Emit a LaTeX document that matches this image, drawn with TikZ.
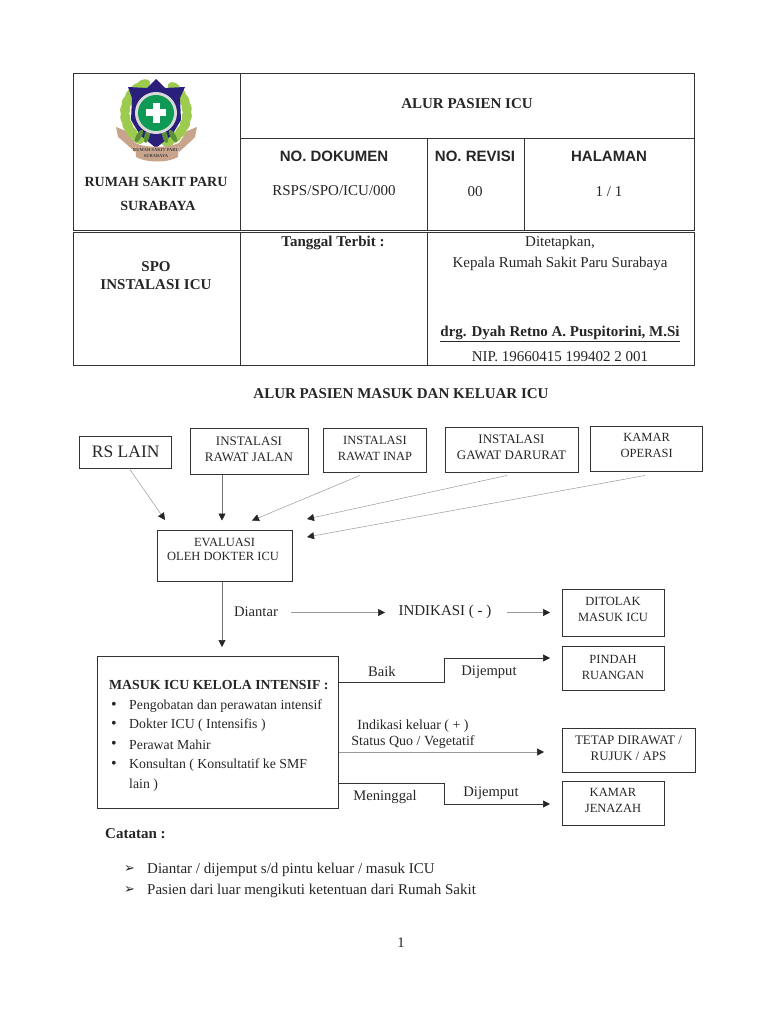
\documentclass[tikz,border=0pt]{standalone}
\usepackage{fontspec}
\setmainfont{Liberation Serif}
\newfontfamily\arialfont{Liberation Sans}
\newfontfamily\symfont{DejaVu Sans}
\usetikzlibrary{arrows.meta,positioning,calc}
\definecolor{rule}{HTML}{333333}
\definecolor{shieldblue}{HTML}{2A1F7A}
\definecolor{leafgreen}{HTML}{9CCB4F}
\definecolor{leafdark}{HTML}{5C8F3A}
\definecolor{crossgreen}{HTML}{0E9A55}
\definecolor{ribbontan}{HTML}{C9A48C}

\begin{document}
\begin{tikzpicture}[
    x=1pt,y=-1pt,
    cell/.style={rectangle,draw=rule,line width=1pt,anchor=north west,inner sep=0pt},
    flowbox/.style={rectangle,draw=rule,line width=1pt,align=center,inner sep=0pt,text=black!85,font=\fontsize{12.5}{16}\selectfont},
    bigflow/.style={flowbox,font=\fontsize{13}{16}\selectfont},
    lift/.style={text depth=#1},
    txt/.style={align=center,inner sep=0pt,text=black!85,font=\fontsize{15}{18}\selectfont},
    boldtxt/.style={txt,font=\fontsize{15}{18}\selectfont\bfseries},
    nametxt/.style={txt,font=\fontsize{14}{18}\selectfont\bfseries},
    headtxt/.style={txt,font=\fontsize{15}{18}\selectfont\arialfont\bfseries},
    small/.style={txt,font=\fontsize{14.6}{16}\selectfont},
    listtxt/.style={txt,anchor=west,align=left,font=\fontsize{13.8}{16}\selectfont},
    arrow/.style={draw=rule,line width=0.7pt,-{Triangle[length=7pt,width=7pt,color=black!85]}},
    thin arrow/.style={arrow,draw=black!40,line width=0.5pt}
]
    \useasboundingbox (0,0) rectangle (768,1024);

    % table
    \node[cell,minimum width=167pt,minimum height=157pt] (logocell) at (73,73) {};
    \node[cell,minimum width=454pt,minimum height=65pt] (titlecell) at (240,73) {};
    \node[cell,minimum width=187pt,minimum height=92pt] (dokcell) at (240,138) {};
    \node[cell,minimum width=97pt,minimum height=92pt] (revcell) at (427,138) {};
    \node[cell,minimum width=170pt,minimum height=92pt] (halcell) at (524,138) {};
    \node[cell,minimum width=167pt,minimum height=133pt] (spocell) at (73,232) {};
    \node[cell,minimum width=187pt,minimum height=133pt] (tglcell) at (240,232) {};
    \node[cell,minimum width=267pt,minimum height=133pt] (ttdcell) at (427,232) {};

    % logo
    \fill[ribbontan] (116,127) -- (126,131) -- (135,143) -- (135,152) -- (124,142) -- (118,137) -- cycle;
    \fill[ribbontan] (197,127) -- (187,131) -- (179,143) -- (179,152) -- (190,142) -- (195,137) -- cycle;
    \begin{scope}[shift={(156,113)}]
        \foreach \ang in {-66,-51,...,66,114,129,...,246} {
            \fill[leafgreen,rotate=\ang] (31,0) ellipse (5 and 7);
        }
    \end{scope}
    \fill[shieldblue] (156,79) -- (165,88) -- (185,87) -- (180,98) -- (181,120) -- (172,135) -- (156,148) -- (140,135) -- (131,120) -- (132,98) -- (128,87) -- (147,88) -- cycle;
    \foreach \xa/\ang in {139/60,147/75,173/120,165/105} {
        \fill[leafdark,rotate around={\ang:(\xa,136)}] (\xa,136) ellipse (7 and 2.6);
    }
    \fill[black!15] (156,113) circle (21);
    \fill[crossgreen] (156,113) circle (18);
    \fill[white] (152.5,103) rectangle (159.5,123);
    \fill[white] (146,109.5) rectangle (166,116.5);
    \fill[ribbontan] (135,143) .. controls (145,148) and (168,148) .. (179,143) -- (178,157) .. controls (168,163) and (146,163) .. (136,157) -- cycle;
    \node[align=center,inner sep=0pt,text=black!75,font=\fontsize{4.5}{6}\selectfont\bfseries] (logotext) at (156,153) {RUMAH SAKIT PARU\\SURABAYA};

    \node[nametxt] (rsname) at (156,182) {RUMAH SAKIT PARU};
    \node[nametxt] (rscity) at (158,206) {SURABAYA};
    \node[boldtxt] (title) at (467,104) {ALUR PASIEN ICU};
    \node[headtxt] (dokhead) at (334,156) {NO. DOKUMEN};
    \node[txt] (dokval) at (334,191) {RSPS/SPO/ICU/000};
    \node[headtxt] (revhead) at (475,156) {NO. REVISI};
    \node[txt] (revval) at (475,192) {00};
    \node[headtxt] (halhead) at (609,156) {HALAMAN};
    \node[txt] (halval) at (609,192) {1 / 1};
    \node[boldtxt] (spo) at (156,276) {SPO\\INSTALASI ICU};
    \node[boldtxt] (tgl) at (333,243) {Tanggal Terbit :};
    \node[txt] (ditetapkan) at (560,243) {Ditetapkan,};
    \node[txt] (kepala) at (560,264) {Kepala Rumah Sakit Paru Surabaya};
    \node[boldtxt] (drg) at (560,334) {\underline{drg. Dyah Retno A. Puspitorini, M.Si}};
    \node[txt] (nip) at (560,357) {NIP. 19660415 199402 2 001};
    \node[boldtxt] (judul) at (401,394) {ALUR PASIEN MASUK DAN KELUAR ICU};

    % boxes
    \node[flowbox,minimum width=92.5pt,minimum height=32pt,font=\fontsize{17.5}{20}\selectfont] (rslain) at (125.7,452) {RS LAIN};
    \node[bigflow,lift=6pt,minimum width=118pt,minimum height=46.5pt] (jalan) at (249,451.7) {INSTALASI\\RAWAT JALAN};
    \node[flowbox,lift=4pt,minimum width=103pt,minimum height=44.5pt] (inap) at (375,450.7) {INSTALASI\\RAWAT INAP};
    \node[bigflow,lift=6pt,minimum width=133pt,minimum height=45.5pt] (gawat) at (511.5,450.2) {INSTALASI\\GAWAT DARURAT};
    \node[flowbox,lift=7pt,minimum width=112.5pt,minimum height=45.5pt] (operasi) at (646.7,449.2) {KAMAR\\OPERASI};
    \node[flowbox,lift=13pt,minimum width=135pt,minimum height=51pt,font=\fontsize{12.5}{14}\selectfont] (evaluasi) at (224.5,555.5) {EVALUASI\\OLEH DOKTER ICU\hspace*{3pt}};
    \node[flowbox,lift=7pt,minimum width=102pt,minimum height=47pt] (ditolak) at (613,612.5) {DITOLAK\\MASUK ICU};
    \node[flowbox,lift=3pt,minimum width=102pt,minimum height=43.5pt] (pindah) at (613,668.5) {PINDAH\\RUANGAN};
    \node[bigflow,lift=3pt,minimum width=133pt,minimum height=44pt] (tetap) at (628.5,750) {TETAP DIRAWAT /\\RUJUK / APS};
    \node[flowbox,lift=5pt,minimum width=102pt,minimum height=44pt] (jenazah) at (613,803) {KAMAR\\JENAZAH};
    \node[flowbox,minimum width=241.5pt,minimum height=152pt] (masuk) at (218.2,732) {};

    % isi kotak masuk
    \node[listtxt,font=\fontsize{13.8}{16}\selectfont\bfseries] (masukhead) at (109,685) {MASUK ICU KELOLA INTENSIF :};
    \foreach \yy/\ket in {706/Pengobatan dan perawatan intensif,725/Dokter ICU ( Intensifis ),745/Perawat Mahir,765/Konsultan ( Konsultatif ke SMF} {
        \node[listtxt,font=\fontsize{16}{16}\selectfont] at (111,\yy) {\textbullet};
        \node[listtxt] at (129,\yy) {\ket};
    }
    \node[listtxt] (lain) at (129,785) {lain )};

    % label
    \node[small] (diantar) at (256,612) {Diantar};
    \node[txt] (indikasi) at (445,612) {INDIKASI ( - )};
    \node[small] (baik) at (382,671) {Baik};
    \node[small] (dijemputa) at (489,672) {Dijemput};
    \node[small,font=\fontsize{14}{16}\selectfont] (keluar) at (413,734) {Indikasi keluar ( + )\\Status Quo / Vegetatif};
    \node[small] (meninggal) at (385,797) {Meninggal};
    \node[small] (dijemputb) at (491,793) {Dijemput};

    % arrows
    \coordinate (tiprs) at (165,520);
    \coordinate (tipjalan) at (222,520.5);
    \coordinate (tipinap) at (252,520.5);
    \coordinate (tipgawat) at (307,519);
    \coordinate (tipoperasi) at (307,537);
    \coordinate (tipmasuk) at (222,647);
    \coordinate (tipindikasi) at (385,612.5);
    \coordinate (tipditolak) at (550,612.5);
    \coordinate (tippindah) at (550,658);
    \coordinate (tiptetap) at (544,752);
    \coordinate (tipjenazah) at (550,804);
    \draw[thin arrow] ([xshift=3.6pt]rslain.south) -- (tiprs);
    \draw[arrow,draw=black!55] (tipjalan |- jalan.south) -- (tipjalan);
    \draw[thin arrow] ([xshift=-15pt,yshift=-2pt]inap.south) -- (tipinap);
    \draw[thin arrow] ([xshift=-4.5pt,yshift=-2pt]gawat.south) -- (tipgawat);
    \draw[thin arrow] ([xshift=-1.5pt,yshift=-3pt]operasi.south) -- (tipoperasi);
    \draw[arrow,draw=black!55] (tipmasuk |- evaluasi.south) -- (tipmasuk);
    \draw[thin arrow] (291,612.5) -- (tipindikasi);
    \draw[thin arrow] ([xshift=15pt]indikasi.east |- tipditolak) -- (tipditolak);
    \draw[arrow] (masuk.east |- 0,682) -- (444,682) -- (444,658) -- (tippindah);
    \draw[thin arrow] (masuk.east |- tiptetap) -- (tiptetap);
    \draw[arrow] (masuk.east |- 0,783) -- (444,783) -- (444,804) -- (tipjenazah);

    % catatan
    \node[boldtxt,anchor=west] (catatan) at (105,834) {Catatan :};
    \node[listtxt,font=\fontsize{13}{14}\selectfont\symfont] at (124,869) {➢};
    \node[listtxt,font=\fontsize{13}{14}\selectfont\symfont] at (124,890) {➢};
    \node[txt,anchor=west] (notea) at (147,870) {Diantar / dijemput s/d pintu keluar / masuk ICU};
    \node[txt,anchor=west] (noteb) at (147,891) {Pasien dari luar mengikuti ketentuan dari Rumah Sakit};
    \node[small] (hal) at (401,943) {1};
\end{tikzpicture}
\end{document}
